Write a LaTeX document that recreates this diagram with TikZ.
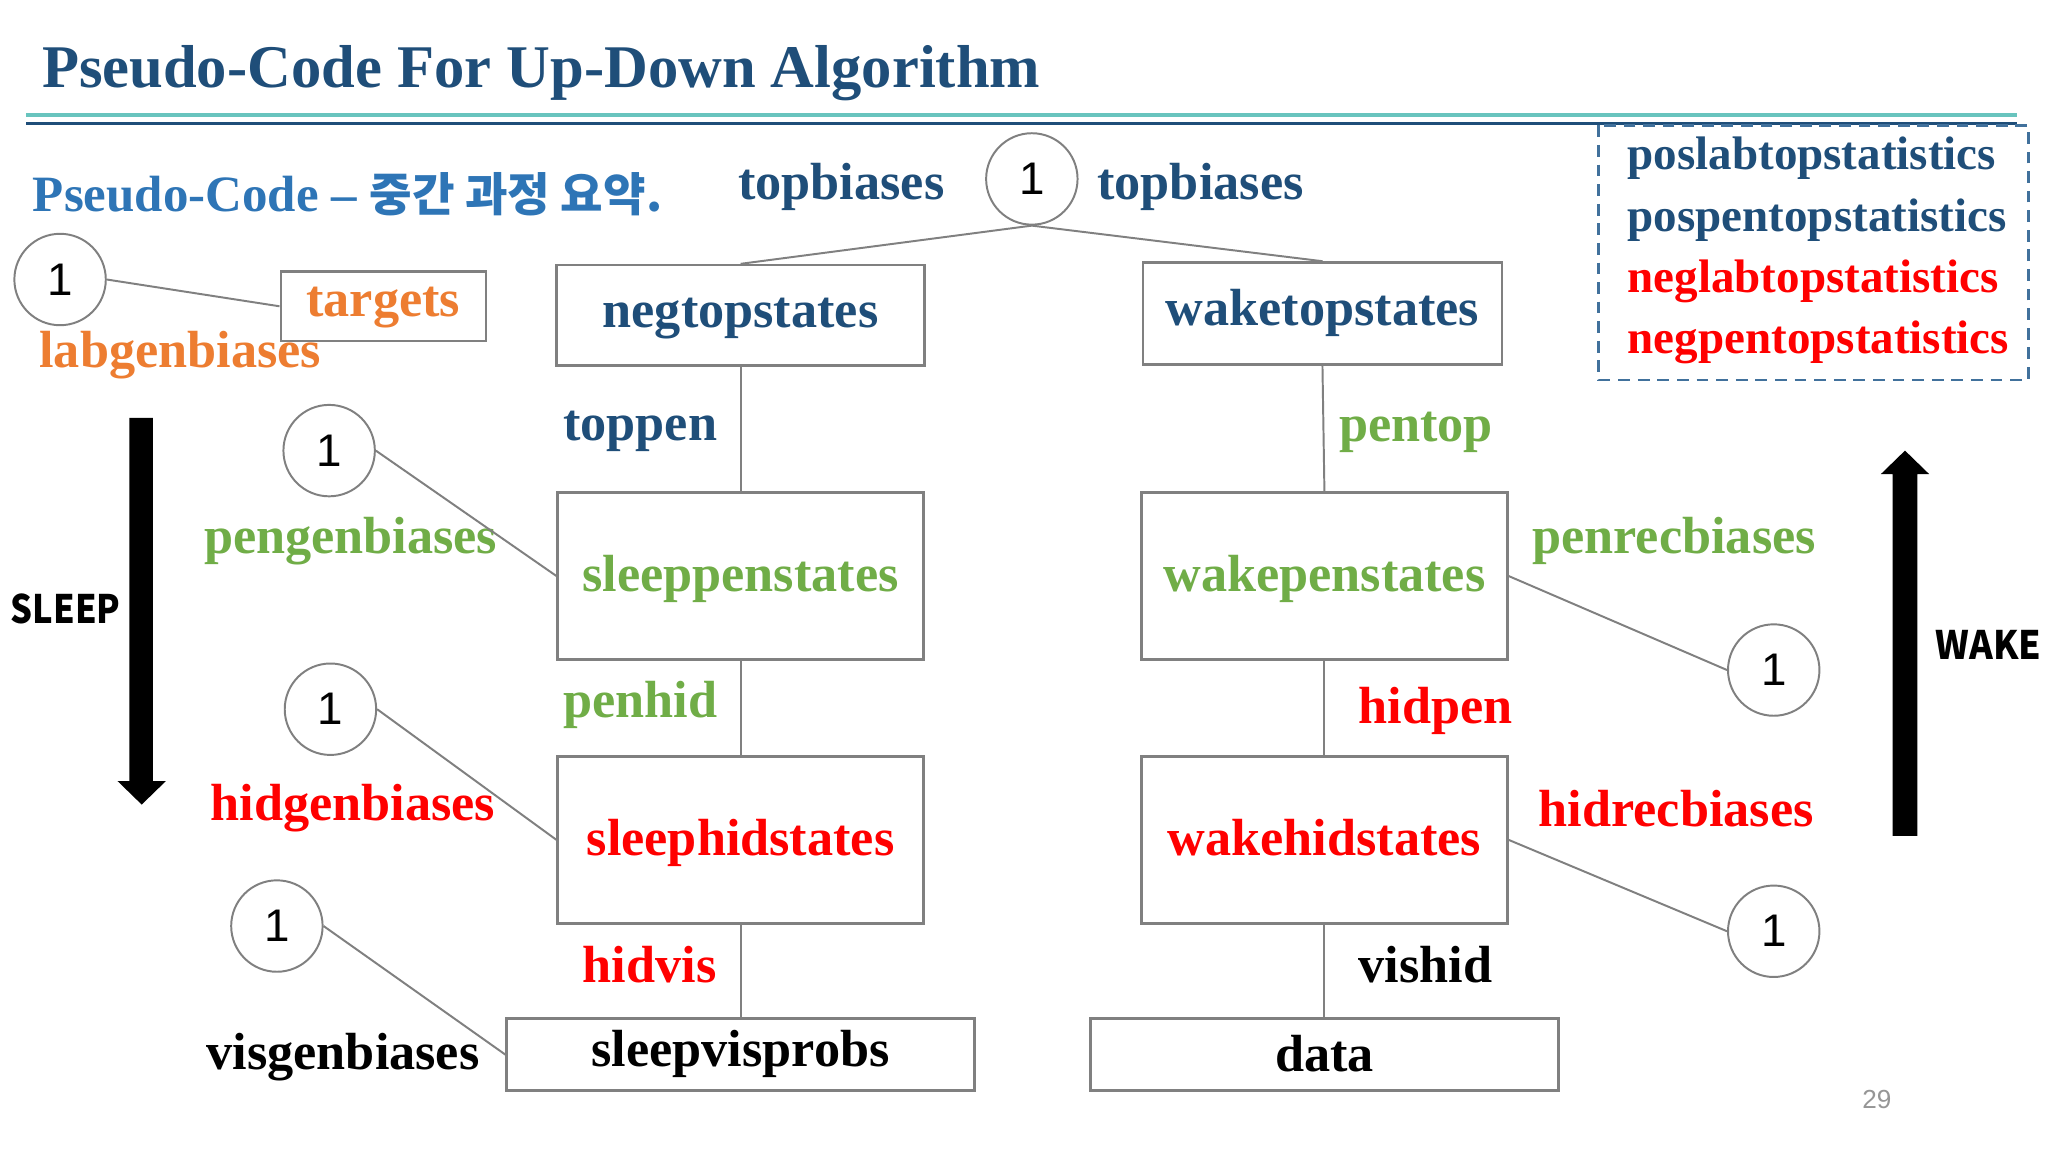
\documentclass[tikz,border=0pt]{standalone}
\usepackage{fontspec}
\setmainfont{Liberation Serif}
\newfontfamily\krfont{Noto Sans CJK KR}
\newfontfamily\arialfont{Liberation Sans}
\definecolor{dblue}{RGB}{31,78,121}
\definecolor{mblue}{RGB}{46,117,182}
\definecolor{lgreen}{RGB}{112,173,71}
\definecolor{pred}{RGB}{255,0,0}
\definecolor{orng}{RGB}{237,125,49}
\definecolor{teal2}{RGB}{104,196,190}
\definecolor{boxgray}{RGB}{128,128,128}
\definecolor{dashblue}{RGB}{65,113,156}
\definecolor{pgnum}{RGB}{150,150,150}
\tikzset{
  statebox/.style={draw=boxgray, line width=2pt, inner sep=0pt, text height=27pt, text depth=3pt, font=\fontsize{40}{40}\selectfont\bfseries},
  onec/.style={circle, draw=boxgray, line width=1.5pt, minimum size=70pt, inner sep=0pt, font=\arialfont\fontsize{35}{35}\selectfont},
  lbl/.style={anchor=base west, inner sep=0pt, font=\fontsize{40}{40}\selectfont\bfseries},
  stat/.style={anchor=base west, inner sep=0pt, font=\fontsize{36}{36}\selectfont\bfseries},
  conn/.style={draw=boxgray, line width=1.5pt},
  dirlbl/.style={anchor=base west, inner sep=0pt, font=\krfont\bfseries\fontsize{30}{30}\selectfont}
}
\begin{document}
\begin{tikzpicture}[x=1pt,y=-1pt]
\useasboundingbox[fill=white] (0,0) rectangle (1568,882);

% title
\node[anchor=base west, inner sep=0pt, text=dblue, font=\fontsize{46.4}{46.4}\selectfont\bfseries] (title) at (32,67) {Pseudo-Code For Up-Down Algorithm};
\draw[teal2, line width=3pt] (20,88) -- (1544,88);
\draw[dblue, line width=2.6pt] (20,94.5) -- (1544,94.5);

% subtitle
\node[anchor=base west, inner sep=0pt, text=mblue] (subtitle) at (25,162) {\fontsize{39}{39}\selectfont\bfseries Pseudo-Code – {\krfont\bfseries\fontsize{35.4}{35.4}\selectfont 중간 과정 요약.}};

% top
\node[onec] (ctop) at (790,137) {1};
\node[lbl, text=dblue] (tb1) at (565,153) {topbiases};
\node[lbl, text=dblue] (tb2) at (840,153) {topbiases};

% boxes
\node[statebox, text=dblue, text depth=8pt, minimum width=282pt, minimum height=77pt] (negtop) at (567,241.5) {negtopstates};
\node[statebox, text=dblue, text depth=8pt, minimum width=275pt, minimum height=78pt] (waketop) at (1012.5,240) {waketopstates};
\node[statebox, text=lgreen, minimum width=280pt, minimum height=128pt] (sleeppen) at (567,441) {sleeppenstates};
\node[statebox, text=lgreen, minimum width=280pt, minimum height=128pt] (wakepen) at (1014,441) {wakepenstates};
\node[statebox, text=pred, minimum width=280pt, minimum height=128pt] (sleephid) at (567,643) {sleephidstates};
\node[statebox, text=pred, minimum width=280pt, minimum height=128pt] (wakehid) at (1014,643) {wakehidstates};
\node[statebox, text=black, text depth=9pt, minimum width=358pt, minimum height=55pt] (sleepvis) at (567,807.5) {sleepvisprobs};
\node[statebox, text=black, text depth=1pt, minimum width=358pt, minimum height=55pt] (data) at (1014,807.5) {data};
\node[statebox, text=orng, text depth=11pt, minimum width=157pt, minimum height=53pt] (targets) at (293.5,234.5) {targets};

% connector labels
\node[lbl, text=dblue] (toppen) at (431,337) {toppen};
\node[lbl, text=lgreen] (pentop) at (1025,338) {pentop};
\node[lbl, text=lgreen] (penhid) at (431,549) {penhid};
\node[lbl, text=pred] (hidpen) at (1040,554) {hidpen};
\node[lbl, text=pred] (hidvis) at (446,752) {hidvis};
\node[lbl, text=black] (vishid) at (1040,752) {vishid};

% bias circles
\node[onec] (ctgt) at (46,214) {1};
\node[onec] (cpg) at (252,345) {1};
\node[onec] (chg) at (253,543) {1};
\node[onec] (cvg) at (212,709) {1};
\node[onec] (cpr) at (1358,513) {1};
\node[onec] (chr) at (1358,713) {1};

\node[lbl, text=orng] (labgen) at (30,281) {labgenbiases};
\node[lbl, text=lgreen] (pengen) at (156,424) {pengenbiases};
\node[lbl, text=pred] (hidgen) at (161,628) {hidgenbiases};
\node[lbl, text=black] (visgen) at (158,819) {visgenbiases};
\node[lbl, text=lgreen] (penrec) at (1173,424) {penrecbiases};
\node[lbl, text=pred] (hidrec) at (1178,633) {hidrecbiases};

% connectors
\draw[conn] (ctop.south) -- (negtop.north);
\draw[conn] (ctop.south) -- (waketop.north);
\draw[conn] (negtop.south) -- (sleeppen.north);
\draw[conn] (waketop.south) -- (wakepen.north);
\draw[conn] (sleeppen.south) -- (sleephid.north);
\draw[conn] (wakepen.south) -- (wakehid.north);
\draw[conn] (sleephid.south) -- (sleepvis.north);
\draw[conn] (wakehid.south) -- (data.north);
\draw[conn] (ctgt.east) -- (targets.west);
\draw[conn] (cpg.east) -- (sleeppen.west);
\draw[conn] (chg.east) -- (sleephid.west);
\draw[conn] (cvg.east) -- (sleepvis.west);
\draw[conn] (wakepen.east) -- (cpr.west);
\draw[conn] (wakehid.east) -- (chr.west);

% statistics box
\draw[dashblue, line width=2pt, dash pattern=on 9pt off 6pt] (1224,96) rectangle (1553,291);
\node[stat, text=dblue] (s1) at (1246,130) {poslabtopstatistics};
\node[stat, text=dblue] (s2) at (1246,177) {pospentopstatistics};
\node[stat, text=pred] (s3) at (1246,224) {neglabtopstatistics};
\node[stat, text=pred] (s4) at (1246,270.5) {negpentopstatistics};

% SLEEP / WAKE arrows
\fill[black] (99,320) -- (117,320) -- (117,598) -- (127,598) -- (108.5,616) -- (90,598) -- (99,598) -- cycle;
\node[dirlbl] (sleep) at (8,477.5) {\scalebox{0.88}[1]{SLEEP}};
\fill[black] (1449,640) -- (1468,640) -- (1468,363) -- (1477,363) -- (1458.5,345) -- (1440,363) -- (1449,363) -- cycle;
\node[dirlbl] (wake) at (1482,505) {\scalebox{0.92}[1]{WAKE}};

% page number
\node[inner sep=0pt, text=pgnum, font=\arialfont\fontsize{20}{20}\selectfont] (pg) at (1437,842) {29};
\end{tikzpicture}
\end{document}
